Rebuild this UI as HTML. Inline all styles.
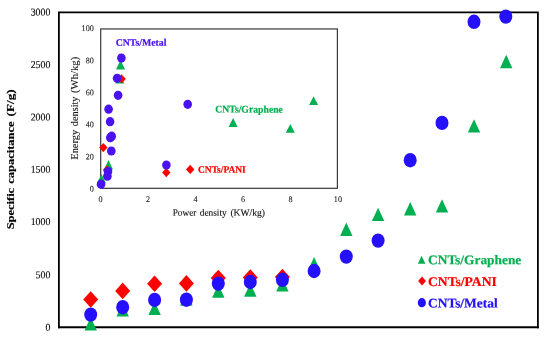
<!DOCTYPE html>
<html><head><meta charset="utf-8"><title>Specific capacitance chart</title>
<style>
html,body{margin:0;padding:0;background:#fff;}
body{width:550px;height:339px;overflow:hidden;}
svg{display:block;font-family:"Liberation Serif","DejaVu Serif",serif;}
</style></head><body>
<svg width="550" height="339" viewBox="0 0 550 339">
<rect width="550" height="339" fill="#fff"/>
<path d="M58.9 328.2 V12.3 H537.9 V328.2" fill="none" stroke="#000" stroke-width="1.8"/>
<path d="M58 327.3 H538.8" fill="none" stroke="#000" stroke-width="1.9"/>
<text transform="translate(50.40 15.50) rotate(0.04) scale(0.95 1)" font-size="10.4" fill="#111" text-anchor="end" stroke="#111" stroke-width="0.15">3000</text>
<text transform="translate(50.40 68.05) rotate(0.04) scale(0.95 1)" font-size="10.4" fill="#111" text-anchor="end" stroke="#111" stroke-width="0.15">2500</text>
<text transform="translate(50.40 120.60) rotate(0.04) scale(0.95 1)" font-size="10.4" fill="#111" text-anchor="end" stroke="#111" stroke-width="0.15">2000</text>
<text transform="translate(50.40 172.65) rotate(0.04) scale(0.95 1)" font-size="10.4" fill="#111" text-anchor="end" stroke="#111" stroke-width="0.15">1500</text>
<text transform="translate(50.40 225.10) rotate(0.04) scale(0.95 1)" font-size="10.4" fill="#111" text-anchor="end" stroke="#111" stroke-width="0.15">1000</text>
<text transform="translate(50.40 278.25) rotate(0.04) scale(0.95 1)" font-size="10.4" fill="#111" text-anchor="end" stroke="#111" stroke-width="0.15">500</text>
<text transform="translate(50.40 330.80) rotate(0.04) scale(0.95 1)" font-size="10.4" fill="#111" text-anchor="end" stroke="#111" stroke-width="0.15">0</text>
<text transform="translate(13.60 229.30) rotate(-90)" font-size="9.8" fill="#000" font-weight="bold" textLength="41.4" lengthAdjust="spacingAndGlyphs" stroke="#000" stroke-width="0.15">Specific</text>
<text transform="translate(13.60 183.70) rotate(-90)" font-size="9.8" fill="#000" font-weight="bold" textLength="62.3" lengthAdjust="spacingAndGlyphs" stroke="#000" stroke-width="0.15">capacitance</text>
<text transform="translate(13.60 116.40) rotate(-90)" font-size="9.8" fill="#000" font-weight="bold" textLength="27" lengthAdjust="spacingAndGlyphs" stroke="#000" stroke-width="0.15">(F/g)</text>
<rect x="100.7" y="28.95" width="236.7" height="159.35" fill="#fff" stroke="#383838" stroke-width="1.2"/>
<text transform="translate(93.70 31.10) rotate(0.04) scale(0.94 1)" font-size="8.6" fill="#1a1a1a" text-anchor="end" stroke="#1a1a1a" stroke-width="0.1">100</text>
<text transform="translate(93.70 63.18) rotate(0.04) scale(0.94 1)" font-size="8.6" fill="#1a1a1a" text-anchor="end" stroke="#1a1a1a" stroke-width="0.1">80</text>
<text transform="translate(93.70 95.26) rotate(0.04) scale(0.94 1)" font-size="8.6" fill="#1a1a1a" text-anchor="end" stroke="#1a1a1a" stroke-width="0.1">60</text>
<text transform="translate(93.70 127.34) rotate(0.04) scale(0.94 1)" font-size="8.6" fill="#1a1a1a" text-anchor="end" stroke="#1a1a1a" stroke-width="0.1">40</text>
<text transform="translate(93.70 159.42) rotate(0.04) scale(0.94 1)" font-size="8.6" fill="#1a1a1a" text-anchor="end" stroke="#1a1a1a" stroke-width="0.1">20</text>
<text transform="translate(93.70 191.50) rotate(0.04) scale(0.94 1)" font-size="8.6" fill="#1a1a1a" text-anchor="end" stroke="#1a1a1a" stroke-width="0.1">0</text>
<text transform="translate(100.40 201.90) rotate(0.04) scale(0.94 1)" font-size="8.6" fill="#1a1a1a" text-anchor="middle" stroke="#1a1a1a" stroke-width="0.1">0</text>
<text transform="translate(147.90 201.90) rotate(0.04) scale(0.94 1)" font-size="8.6" fill="#1a1a1a" text-anchor="middle" stroke="#1a1a1a" stroke-width="0.1">2</text>
<text transform="translate(195.40 201.90) rotate(0.04) scale(0.94 1)" font-size="8.6" fill="#1a1a1a" text-anchor="middle" stroke="#1a1a1a" stroke-width="0.1">4</text>
<text transform="translate(242.90 201.90) rotate(0.04) scale(0.94 1)" font-size="8.6" fill="#1a1a1a" text-anchor="middle" stroke="#1a1a1a" stroke-width="0.1">6</text>
<text transform="translate(290.40 201.90) rotate(0.04) scale(0.94 1)" font-size="8.6" fill="#1a1a1a" text-anchor="middle" stroke="#1a1a1a" stroke-width="0.1">8</text>
<text transform="translate(337.90 201.90) rotate(0.04) scale(0.94 1)" font-size="8.6" fill="#1a1a1a" text-anchor="middle" stroke="#1a1a1a" stroke-width="0.1">10</text>
<text transform="translate(78.40 159.70) rotate(-90)" font-size="10.2" fill="#1a1a1a" textLength="29.8" lengthAdjust="spacingAndGlyphs" stroke="#1a1a1a" stroke-width="0.1">Energy</text>
<text transform="translate(78.40 126.20) rotate(-90)" font-size="10.2" fill="#1a1a1a" textLength="29.7" lengthAdjust="spacingAndGlyphs" stroke="#1a1a1a" stroke-width="0.1">density</text>
<text transform="translate(78.40 93.00) rotate(-90)" font-size="10.2" fill="#1a1a1a" textLength="36.3" lengthAdjust="spacingAndGlyphs" stroke="#1a1a1a" stroke-width="0.1">(Wh/kg)</text>
<text transform="translate(172.70 215.80) rotate(0.04)" font-size="9.7" fill="#111" textLength="23.7" lengthAdjust="spacingAndGlyphs" stroke="#111" stroke-width="0.12">Power</text>
<text transform="translate(199.80 215.80) rotate(0.04)" font-size="9.7" fill="#111" textLength="26.9" lengthAdjust="spacingAndGlyphs" stroke="#111" stroke-width="0.12">density</text>
<text transform="translate(230.40 215.80) rotate(0.04)" font-size="9.7" fill="#111" textLength="34.6" lengthAdjust="spacingAndGlyphs" stroke="#111" stroke-width="0.12">(KW/kg)</text>
<g>
<polygon points="116.00,69.50 125.00,69.50 120.50,60.00" fill="#00b050"/>
<polygon points="115.30,83.50 124.30,83.50 119.80,74.00" fill="#00b050"/>
<polygon points="104.00,169.50 113.00,169.50 108.50,160.00" fill="#00b050"/>
<polygon points="97.00,183.20 106.00,183.20 101.50,174.00" fill="#00b050"/>
<polygon points="228.60,126.90 237.60,126.90 233.10,118.10" fill="#00b050"/>
<polygon points="285.80,132.70 294.80,132.70 290.30,123.90" fill="#00b050"/>
<polygon points="309.10,105.10 318.10,105.10 313.60,96.30" fill="#00b050"/>
<polygon points="117.40,78.90 121.60,74.30 125.80,78.90 121.60,83.50" fill="#ff0000"/>
<polygon points="99.10,147.60 103.30,143.00 107.50,147.60 103.30,152.20" fill="#ff0000"/>
<polygon points="102.80,169.90 107.00,165.30 111.20,169.90 107.00,174.50" fill="#ff0000"/>
<polygon points="162.10,172.60 166.30,168.00 170.50,172.60 166.30,177.20" fill="#ff0000"/>
<polygon points="186.00,169.40 190.20,164.80 194.40,169.40 190.20,174.00" fill="#ff0000"/>
<ellipse cx="121.40" cy="58.10" rx="4.3" ry="4.6" fill="#4a12f0"/>
<ellipse cx="117.10" cy="78.30" rx="4.3" ry="4.6" fill="#4a12f0"/>
<ellipse cx="118.10" cy="95.30" rx="4.3" ry="4.6" fill="#4a12f0"/>
<ellipse cx="108.60" cy="109.20" rx="4.3" ry="4.6" fill="#4a12f0"/>
<ellipse cx="110.10" cy="121.70" rx="4.3" ry="4.6" fill="#4a12f0"/>
<ellipse cx="110.30" cy="137.70" rx="4.3" ry="4.6" fill="#4a12f0"/>
<ellipse cx="111.70" cy="136.20" rx="4.3" ry="4.6" fill="#4a12f0"/>
<ellipse cx="111.30" cy="151.00" rx="4.3" ry="4.6" fill="#4a12f0"/>
<ellipse cx="108.00" cy="171.60" rx="4.3" ry="4.6" fill="#4a12f0"/>
<ellipse cx="107.40" cy="176.20" rx="4.3" ry="4.6" fill="#4a12f0"/>
<ellipse cx="101.00" cy="184.20" rx="4.3" ry="4.6" fill="#4a12f0"/>
<ellipse cx="187.70" cy="104.30" rx="4.3" ry="4.6" fill="#4a12f0"/>
<ellipse cx="166.40" cy="165.10" rx="4.3" ry="4.6" fill="#4a12f0"/>
</g>
<text transform="translate(115.70 45.80) rotate(0.04)" font-size="10" fill="#4a12f0" font-weight="bold" textLength="50.8" lengthAdjust="spacingAndGlyphs" stroke="#4a12f0" stroke-width="0.2">CNTs/Metal</text>
<text transform="translate(215.30 112.60) rotate(0.04)" font-size="10.2" fill="#00b050" font-weight="bold" textLength="67.6" lengthAdjust="spacingAndGlyphs" stroke="#00b050" stroke-width="0.2">CNTs/Graphene</text>
<text transform="translate(198.00 172.70) rotate(0.04)" font-size="10" fill="#ff0000" font-weight="bold" textLength="47.8" lengthAdjust="spacingAndGlyphs" stroke="#ff0000" stroke-width="0.2">CNTs/PANI</text>
<g>
<polygon points="84.50,330.60 96.90,330.60 90.70,317.20" fill="#00b050"/>
<polygon points="116.50,316.50 128.90,316.50 122.70,303.10" fill="#00b050"/>
<polygon points="148.40,315.10 160.80,315.10 154.60,301.70" fill="#00b050"/>
<polygon points="180.20,305.70 192.60,305.70 186.40,292.30" fill="#00b050"/>
<polygon points="212.10,297.70 224.50,297.70 218.30,284.30" fill="#00b050"/>
<polygon points="244.10,296.70 256.50,296.70 250.30,283.30" fill="#00b050"/>
<polygon points="276.20,291.40 288.60,291.40 282.40,278.00" fill="#00b050"/>
<polygon points="307.90,270.50 320.30,270.50 314.10,257.10" fill="#00b050"/>
<polygon points="340.10,235.90 352.50,235.90 346.30,222.50" fill="#00b050"/>
<polygon points="371.90,221.10 384.30,221.10 378.10,207.70" fill="#00b050"/>
<polygon points="404.00,215.40 416.40,215.40 410.20,202.00" fill="#00b050"/>
<polygon points="435.80,212.60 448.20,212.60 442.00,199.20" fill="#00b050"/>
<polygon points="467.80,132.60 480.20,132.60 474.00,119.20" fill="#00b050"/>
<polygon points="500.00,68.20 512.40,68.20 506.20,54.80" fill="#00b050"/>
<polygon points="83.20,299.50 90.70,291.20 98.20,299.50 90.70,307.80" fill="#ff0000"/>
<polygon points="115.20,290.90 122.70,282.60 130.20,290.90 122.70,299.20" fill="#ff0000"/>
<polygon points="147.10,283.80 154.60,275.50 162.10,283.80 154.60,292.10" fill="#ff0000"/>
<polygon points="178.90,283.40 186.40,275.10 193.90,283.40 186.40,291.70" fill="#ff0000"/>
<polygon points="210.80,278.00 218.30,269.70 225.80,278.00 218.30,286.30" fill="#ff0000"/>
<polygon points="242.80,277.60 250.30,269.30 257.80,277.60 250.30,285.90" fill="#ff0000"/>
<polygon points="274.90,277.00 282.40,268.70 289.90,277.00 282.40,285.30" fill="#ff0000"/>
<ellipse cx="90.70" cy="314.60" rx="6.5" ry="7.2" fill="#2410fc"/>
<ellipse cx="122.70" cy="307.20" rx="6.5" ry="7.2" fill="#2410fc"/>
<ellipse cx="154.60" cy="299.90" rx="6.5" ry="7.2" fill="#2410fc"/>
<ellipse cx="186.40" cy="299.70" rx="6.5" ry="7.2" fill="#2410fc"/>
<ellipse cx="218.30" cy="283.60" rx="6.5" ry="7.2" fill="#2410fc"/>
<ellipse cx="250.30" cy="282.00" rx="6.5" ry="7.2" fill="#2410fc"/>
<ellipse cx="282.40" cy="279.80" rx="6.5" ry="7.2" fill="#2410fc"/>
<ellipse cx="314.10" cy="271.00" rx="6.5" ry="7.2" fill="#2410fc"/>
<ellipse cx="346.30" cy="256.60" rx="6.5" ry="7.2" fill="#2410fc"/>
<ellipse cx="378.10" cy="240.60" rx="6.5" ry="7.2" fill="#2410fc"/>
<ellipse cx="410.20" cy="160.20" rx="6.5" ry="7.2" fill="#2410fc"/>
<ellipse cx="442.00" cy="122.90" rx="6.5" ry="7.2" fill="#2410fc"/>
<ellipse cx="474.00" cy="21.80" rx="6.5" ry="7.2" fill="#2410fc"/>
<ellipse cx="505.80" cy="16.60" rx="6.5" ry="7.2" fill="#2410fc"/>
</g>
<polygon points="417.85,263.80 425.35,263.80 421.60,255.80" fill="#00b050"/>
<polygon points="418.15,281.00 422.05,276.50 425.95,281.00 422.05,285.50" fill="#ff0000"/>
<ellipse cx="421.85" cy="302.70" rx="4.1" ry="4.6" fill="#2410fc"/>
<text transform="translate(428.10 264.30) rotate(0.04)" font-size="13.3" fill="#00b050" font-weight="bold" textLength="93.2" lengthAdjust="spacingAndGlyphs" stroke="#00b050" stroke-width="0.2">CNTs/Graphene</text>
<text transform="translate(428.00 285.90) rotate(0.04)" font-size="13.3" fill="#ff0000" font-weight="bold" textLength="68.8" lengthAdjust="spacingAndGlyphs" stroke="#ff0000" stroke-width="0.2">CNTs/PANI</text>
<text transform="translate(428.00 307.40) rotate(0.04)" font-size="13.3" fill="#2410fc" font-weight="bold" textLength="69.7" lengthAdjust="spacingAndGlyphs" stroke="#2410fc" stroke-width="0.2">CNTs/Metal</text>
</svg></body></html>
